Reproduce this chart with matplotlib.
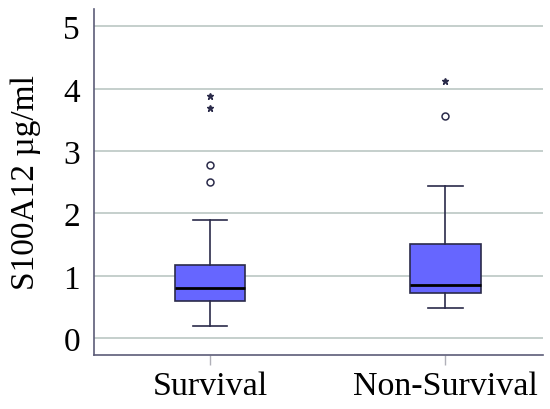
import matplotlib
matplotlib.use("Agg")
import matplotlib.pyplot as plt

# Box statistics (S100A12, ug/ml)
groups = ["Survival", "Non-Survival"]
medians = [0.81, 0.85]
q1 = [0.59, 0.73]
q3 = [1.175, 1.515]
whisker_lo = [0.20, 0.485]
whisker_hi = [1.90, 2.445]
# mild outliers (circles) and extreme values (stars)
outliers = [[2.505, 2.78], [3.56]]
extremes = [[3.70, 3.89], [4.13]]

yticks = [0, 1, 2, 3, 4, 5]

box_color = "#6666ff"
line_color = "#2b2b4a"
grid_color = "#c5cfcc"
spine_color = "#5c5c78"

plt.rcParams["font.family"] = ["Liberation Serif", "DejaVu Serif"]

fig = plt.figure(figsize=(5.5, 4.1), dpi=100)
ax = fig.add_axes([94 / 550, 54 / 410, 449 / 550, 346 / 410])

stats = []
for i, name in enumerate(groups):
    stats.append({
        "label": name,
        "med": medians[i],
        "q1": q1[i],
        "q3": q3[i],
        "whislo": whisker_lo[i],
        "whishi": whisker_hi[i],
        "fliers": outliers[i],
    })

positions = list(range(1, len(groups) + 1))
ax.bxp(
    stats,
    positions=positions,
    widths=0.30,
    patch_artist=True,
    boxprops=dict(facecolor=box_color, edgecolor=line_color, linewidth=1.2),
    medianprops=dict(color="black", linewidth=2),
    whiskerprops=dict(color=line_color, linewidth=1.2),
    capprops=dict(color=line_color, linewidth=1.2),
    capwidths=0.145,
    flierprops=dict(marker="o", markersize=5, markerfacecolor="none",
                    markeredgecolor=line_color, markeredgewidth=1.1),
    zorder=3,
)

for pos, vals in zip(positions, extremes):
    ax.plot([pos] * len(vals), vals, linestyle="none", marker="*",
            markersize=4.5, color=line_color, zorder=4)

ax.set_xlim(0.508, 2.414)
ax.set_ylim(-0.27, 5.28)
ax.set_yticks(yticks)
ax.set_xticks(positions)
ax.set_xticklabels(groups)

ax.yaxis.grid(True, color=grid_color, linewidth=1.4, zorder=0)
ax.set_axisbelow(True)

for side in ("top", "right"):
    ax.spines[side].set_visible(False)
for side in ("left", "bottom"):
    ax.spines[side].set_color(spine_color)
    ax.spines[side].set_linewidth(1.2)

ax.tick_params(axis="y", length=0, pad=10, labelsize=24)
ax.tick_params(axis="x", length=7, width=1, color="#b0b0b8", pad=4,
               labelsize=24.5)

ax.set_ylabel("S100A12 µg/ml", fontsize=24, labelpad=16)

fig.savefig("out.png", dpi=100)
